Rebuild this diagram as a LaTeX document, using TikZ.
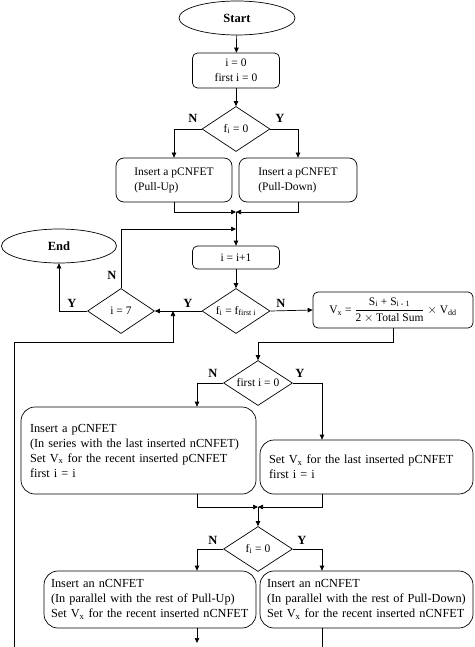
\documentclass[tikz,border=0pt]{standalone}
\usepackage{fontspec}
\setmainfont{Liberation Serif}
\usepackage{amsmath}
\usetikzlibrary{shapes.geometric,arrows.meta}

\begin{document}
\begin{tikzpicture}[x=1pt,y=-1pt,line width=0.7pt,
        font=\fontsize{11.5}{15}\selectfont,
        term/.style = {ellipse, draw, minimum width=116pt,
            minimum height=34pt, inner sep=0pt,
            font=\fontsize{12.5}{14}\selectfont\bfseries},
        proc/.style = {rectangle, draw, rounded corners=5pt,
            inner sep=0pt, align=center},
        bigproc/.style = {proc, rounded corners=14pt, align=left,
            inner xsep=9pt, font=\fontsize{12.3}{15}\selectfont},
        decide/.style = {diamond, draw, aspect=1.5, inner sep=0pt,
            minimum width=68pt, minimum height=45pt},
        yn/.style = {font=\fontsize{12.5}{14}\selectfont\bfseries},
        arr/.style = {-{Triangle[length=5pt,width=4.5pt]}}]

        \useasboundingbox (0,0) rectangle (474,647);

        % Columns
        \coordinate (colL) at (197,0);
        \coordinate (colR) at (322,0);

        % Start
        \node[term] (start) at (237,18) {Start};

        % Init
        \node[proc,minimum width=87pt,minimum height=35pt] (init) at (236,70.5)
            {i = 0\\first i = 0};

        % f_i = 0
        \node[decide] (d1) at (236,129) {f\textsubscript{i} = 0};
        \node[yn] (n1) at (193,118) {N};
        \node[yn] (y1) at (280,118) {Y};

        % Pull-Up / Pull-Down
        \node[proc,rounded corners=8pt,align=left,minimum width=116pt,
            minimum height=44pt] (pu) at (174,180)
            {Insert a pCNFET\\(Pull-Up)};
        \node[proc,rounded corners=8pt,align=left,minimum width=118pt,
            minimum height=44pt] (pd) at (298,180)
            {Insert a pCNFET\\(Pull-Down)};
        \coordinate (m1) at (236,212);
        \coordinate (j1) at (236,229);

        % i = i+1
        \node[proc,minimum width=87pt,minimum height=23pt] (inc) at (236,257.5)
            {i = i+1};

        % f_i = f_first i
        \node[decide] (d2) at (236,311) {f\textsubscript{i} = f\textsubscript{first i}};
        \node[yn] (y2) at (188,303) {Y};
        \node[yn] (n2) at (281,303) {N};

        % i = 7
        \node[decide,minimum width=67pt] (d3) at (121,311) {i = 7};
        \node[yn] (n3) at (112,275) {N};
        \node[yn] (y3) at (72,303) {Y};
        \coordinate (j2) at (173,311);
        \coordinate (t2) at (173,342);

        % End
        \node[term,minimum width=115pt] (end) at (59,246) {End};

        % V_x
        \node[proc,minimum width=160pt,minimum height=36pt] (vx) at (393,310)
            {V\textsubscript{x} = $\dfrac{\text{S\textsubscript{i} + S\textsubscript{i - 1}}}
            {\text{2}\times\text{Total Sum}}$ $\times$ V\textsubscript{dd}};

        % first i = 0
        \node[decide,minimum width=69pt] (d4) at (258,383) {first i = 0};
        \node[yn] (n4) at (213,373) {N};
        \node[yn] (y4) at (300,373) {Y};

        % Series / last
        \node[bigproc,minimum width=235pt,text width=217pt,minimum height=87pt]
            (ser) at (138.5,450.5)
            {Insert a pCNFET\\(In series with the last inserted nCNFET)\\
             Set V\textsubscript{x} for the recent inserted pCNFET\\first i = i};
        \node[bigproc,minimum width=213pt,text width=195pt,minimum height=54pt]
            (last) at (366.5,467)
            {Set V\textsubscript{x} for the last inserted pCNFET\\first i = i};
        \coordinate (m2) at (258,507);

        % f_i = 0 (second)
        \node[decide,minimum width=69pt] (d5) at (258,549) {f\textsubscript{i} = 0};
        \node[yn] (n5) at (213,540) {N};
        \node[yn] (y5) at (302,540) {Y};

        % Parallel
        \node[bigproc,inner xsep=7pt,minimum width=212pt,text width=198pt,
            minimum height=57pt] (pul) at (150,599.5)
            {Insert an nCNFET\\(In parallel with the rest of Pull-Up)\\
             Set V\textsubscript{x} for the recent inserted nCNFET};
        \node[bigproc,inner xsep=7pt,minimum width=213pt,text width=199pt,
            minimum height=57pt] (pdn) at (366.5,599.5)
            {Insert an nCNFET\\(In parallel with the rest of Pull-Down)\\
             Set V\textsubscript{x} for the recent inserted nCNFET};

        % Bottom ends
        \coordinate (bL) at (197,643);
        \coordinate (bR) at (322,647);
        \coordinate (bX) at (14,647);

        % Connectors
        \draw[arr] (start) -- (init);
        \draw[arr] (init) -- (d1);
        \draw[arr] (d1.west) -| (pu.north);
        \draw[arr] (d1.east) -| (pd.north);
        \draw[arr] (pu.south) |- (m1);
        \draw[arr] (pd.south) |- (m1);
        \draw[arr] (m1) -- (inc);
        \draw[arr] (d3.north) |- (j1);
        \draw[arr] (inc) -- (d2);
        \draw[arr] (d2.west) -- (d3.east);
        \draw[arr] (d2.east) -- (vx.west);
        \draw[arr] (d3.west) -| (end.south);
        \draw[arr] (bX) |- (t2) -- (j2);
        \draw[arr] (vx.south) -- (vx.south |- t2) -| (d4.north);
        \draw[arr] (d4.west) -| (ser.north -| colL);
        \draw[arr] (d4.east) -| (last.north -| colR);
        \draw[arr] (ser.south -| colL) |- (m2);
        \draw[arr] (last.south -| colR) |- (m2);
        \draw[arr] (m2) -- (d5);
        \draw[arr] (d5.west) -| (pul.north -| colL);
        \draw[arr] (d5.east) -| (pdn.north -| colR);
        \draw[arr] (pul.south -| colL) -- (bL);
        \draw (pdn.south -| colR) -- (bR);

    \end{tikzpicture}
\end{document}
